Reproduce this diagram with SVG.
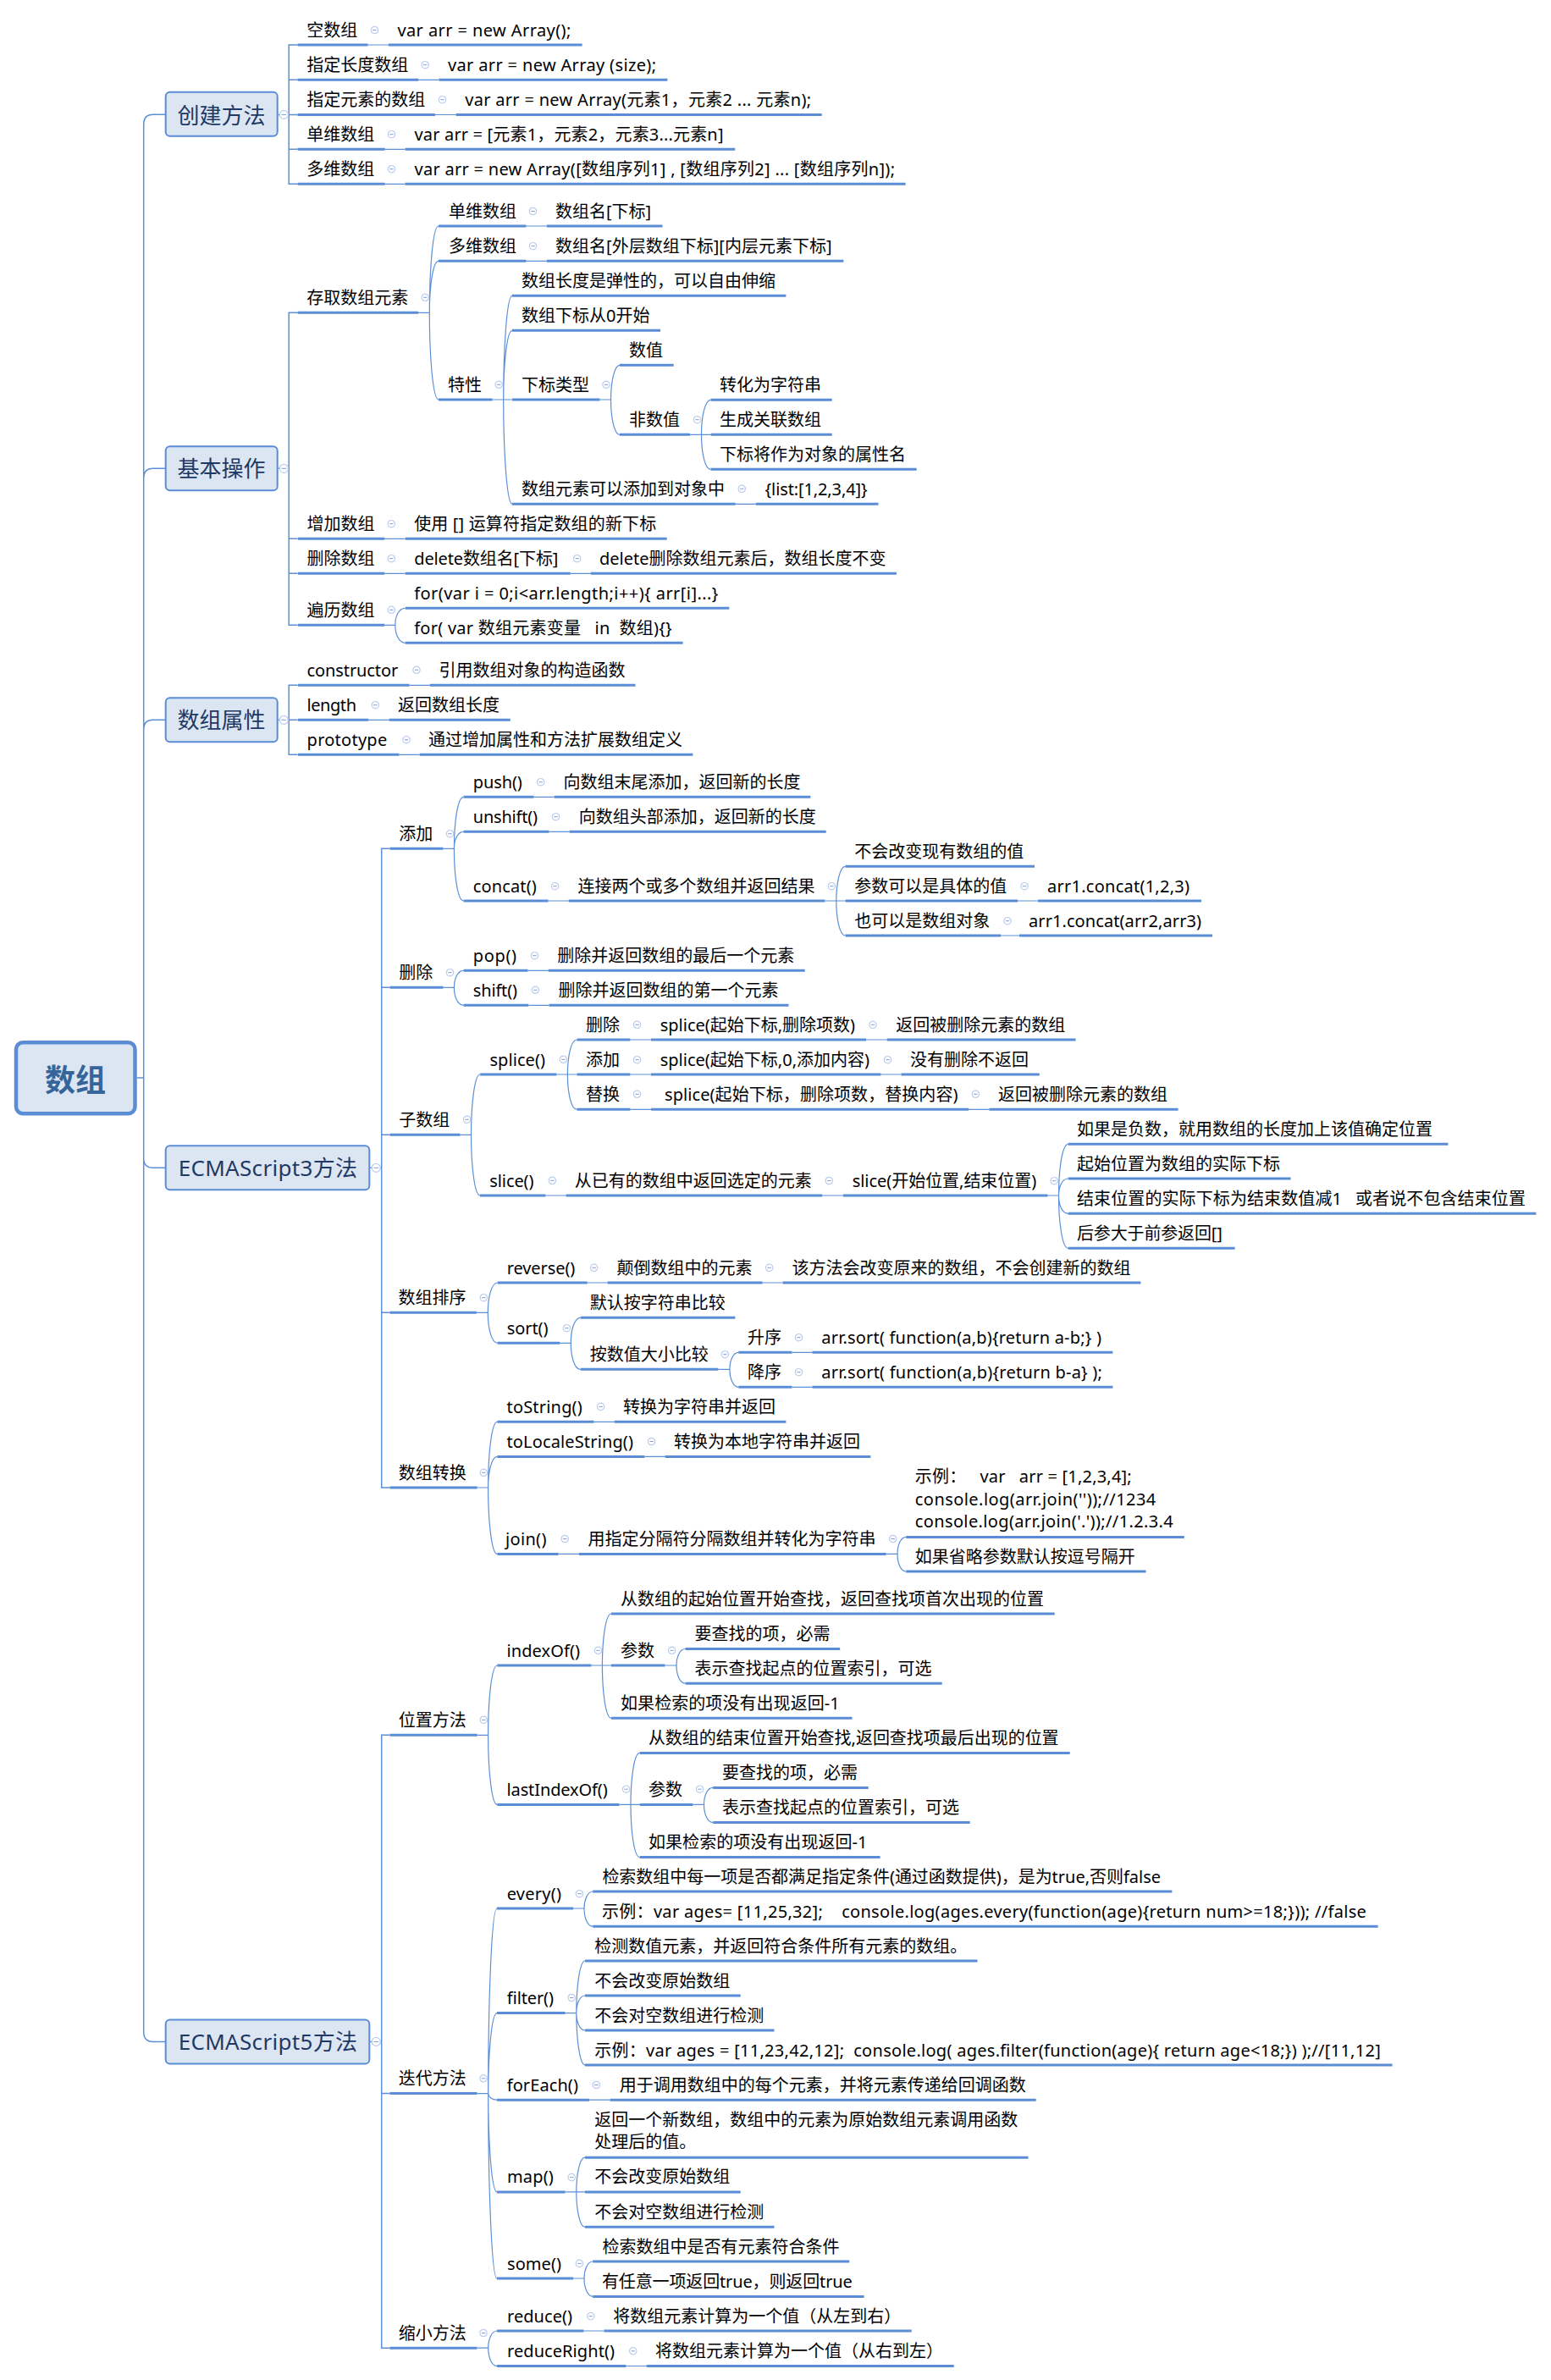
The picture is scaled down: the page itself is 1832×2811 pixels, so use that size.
<svg xmlns="http://www.w3.org/2000/svg" width="1832" height="2811" viewBox="0 0 1832 2811">
<style>
text{font-family:"Noto Sans","Noto Sans CJK SC",sans-serif;font-size:20px;fill:#000;white-space:pre}
.u{fill:none;stroke:#5b8dd6;stroke-width:3}
.c{fill:none;stroke:#5b8fd6;stroke-width:1.2}
.s{fill:none;stroke:#5b8fd6;stroke-width:1.5}
.b{fill:#dce6f3;stroke:#5b8dd6;stroke-width:2}
.bt{font-size:26px;fill:#1f3864}
.k circle{fill:#fff;stroke:#bccdf0;stroke-width:1.2}
.k path{fill:none;stroke:#7f9de0;stroke-width:1}
</style>
<defs>
<g id="tg" class="k"><circle r="4.2"/><path d="M-2.2 0H2.2"/></g>
<g id="tb" class="k"><circle r="5"/><path d="M-2.8 0H2.8"/></g>
</defs>
<rect width="1832" height="2811" fill="#fff"/>
<g id="connectors">
<path class="s" d="M162 1273H170M195 135.3H181Q169.7 135.3 169.7 147V2400Q169.7 2411.4 181 2411.4H195M195 553.3H181Q169.7 553.3 169.7 565M195 850.3H181Q169.7 850.3 169.7 862M195 1379.3H181Q169.7 1379.3 169.7 1368"/>
<path class="s" d="M328.6 135.5H341.2M351.5 53H341.2V217.3H351.5M341.2 94.3H351.5M341.2 135.5H351.5M341.2 176.3H351.5"/>
<path class="s" d="M328.6 553.3H341.2M351.5 369.3H341.2V738.3H351.5M341.2 636.3H351.5M341.2 677.3H351.5"/>
<path class="s" d="M328.6 850.3H341.2M351.5 809.3H341.2V891.3H351.5M341.2 850.3H351.5"/>
<path class="s" d="M437.3 1379.3H450.7M460.5 1002.3H450.7V1757H460.5M450.7 1166.3H460.5M450.7 1340.3H460.5M450.7 1550.3H460.5"/>
<path class="s" d="M437.3 2411.4H450.7M460.5 2049.3H450.7V2773.2H460.5M450.7 2472.6H460.5"/>
<path class="c" d="M434.6 53H458.7M494.3 94.3H518.4M514 135.5H538.6M454.7 176.3H478.5M454.7 217.3H478.5M621.5 267H645.7M621.5 308.3H645.7M868.8 595.3H892.7M454.4 636.3H478.8M454.4 677.3H478.8M673.8 677.3H697.7M483.6 809.3H507.7M435.4 850.3H459.5M471.5 891.3H495.6M630.6 941.3H654.7M648.5 982.3H672.6M647.6 1064H671.7M1202 1064H1226M1182 1105H1204M623.5 1146.3H647.6M624.4 1187.3H648.5M744.5 1228H769M1023 1228H1047.6M744.5 1269H769M1040.4 1269H1064.5M744.5 1310.3H769M1144.3 1310.3H1168.4M644.5 1412H668.4M971.3 1412H995.7M693.7 1515H717.6M900.7 1515H924.6M935.5 1597.3H959.4M935.5 1638.3H959.4M701.6 1679.3H725.7M761.4 1720.4H785.5M659.6 1835.4H683.8M696 2480.2H720.6M689.5 2753H713.5M739.5 2794.5H763.5"/>
<path class="c" d="M494.3 369.3H507.3M507.3 369.3C507.3 318 511.3 267 518 267M507.3 369.3C507.3 339 511.3 308.3 518 308.3M507.3 369.3C507.3 421 511.3 472 518 472"/>
<path class="c" d="M581.7 472H594.7M594.7 472C594.7 411 598.7 349.3 605 349.3M594.7 472C594.7 431 598.7 390.3 605 390.3M594.7 472H605M594.7 472C594.7 534 598.7 595.3 605 595.3"/>
<path class="c" d="M708.6 472H721.5M721.5 472C721.5 452 725.5 431.3 732 431.3M721.5 472C721.5 493 725.5 513.3 732 513.3"/>
<path class="c" d="M815 513.3H839.5M828.5 513.3C828.5 493 832.5 472.3 839.5 472.3M828.5 513.3C828.5 534 832.5 554.3 839.5 554.3"/>
<path class="c" d="M454.4 738.3H466.8M466.8 738.3C466.8 728 470.8 718.3 478.8 718.3M466.8 738.3C466.8 749 470.8 759.3 478.8 759.3"/>
<path class="c" d="M523.5 1002.3H536.4M536.4 1002.3C536.4 972 540.4 941.3 547.6 941.3M536.4 1002.3C536.4 992 540.4 982.3 547.6 982.3M536.4 1002.3C536.4 1033 540.4 1064 547.6 1064"/>
<path class="c" d="M974.4 1064H998.5M987.8 1064C987.8 1044 991.8 1023.3 998.5 1023.3M987.8 1064C987.8 1085 991.8 1105 998.5 1105"/>
<path class="c" d="M523.5 1166.3H536.4M536.4 1166.3C536.4 1156 540.4 1146.3 547.6 1146.3M536.4 1166.3C536.4 1177 540.4 1187.3 547.6 1187.3"/>
<path class="c" d="M543.6 1340.3H556.5M556.5 1340.3C556.5 1305 560.5 1269 567 1269M556.5 1340.3C556.5 1376 560.5 1412 567 1412"/>
<path class="c" d="M657.4 1269H681.5M670.4 1269C670.4 1248 674.4 1228 681.5 1228M670.4 1269C670.4 1290 674.4 1310.3 681.5 1310.3"/>
<path class="c" d="M1237.6 1412H1250.5M1250.5 1412C1250.5 1382 1254.5 1351.3 1261.7 1351.3M1250.5 1412C1250.5 1402 1254.5 1392 1261.7 1392M1250.5 1412C1250.5 1423 1254.5 1433.3 1261.7 1433.3M1250.5 1412C1250.5 1443 1254.5 1474.3 1261.7 1474.3"/>
<path class="c" d="M562.9 1550.3H576.3M576.3 1550.3C576.3 1533 580.3 1515 587.8 1515M576.3 1550.3C576.3 1568 580.3 1586.3 587.8 1586.3"/>
<path class="c" d="M661.4 1586.3H674.3M674.3 1586.3C674.3 1571 678.3 1556.3 685.8 1556.3M674.3 1586.3C674.3 1602 678.3 1617.3 685.8 1617.3"/>
<path class="c" d="M848.5 1617.3H861.9M861.9 1617.3C861.9 1607 865.9 1597.3 872.3 1597.3M861.9 1617.3C861.9 1628 865.9 1638.3 872.3 1638.3"/>
<path class="c" d="M563.7 1757H576.6M576.6 1757C576.6 1718 580.6 1679.3 587.3 1679.3M576.6 1757C576.6 1739 580.6 1720.4 587.3 1720.4M576.6 1757C576.6 1796 580.6 1835.4 587.3 1835.4"/>
<path class="c" d="M1046.7 1835.4H1060M1060 1835.4C1060 1825 1064 1815.4 1070.2 1815.4M1060 1835.4C1060 1846 1064 1856 1070.2 1856"/>
<path class="c" d="M563.7 2049.3H576.6M576.6 2049.3C576.6 2008 580.6 1967 587.3 1967M576.6 2049.3C576.6 2090 580.6 2131.4 587.3 2131.4"/>
<path class="c" d="M698.5 1967H722M711.4 1967C711.4 1936 715.4 1906 722 1906M711.4 1967C711.4 1998 715.4 2029.3 722 2029.3"/>
<path class="c" d="M785.5 1967H799M799 1967C799 1957 803 1947.5 809.6 1947.5M799 1967C799 1978 803 1988.2 809.6 1988.2"/>
<path class="c" d="M731.5 2131.4H755.6M745 2131.4C745 2101 749 2070.4 755.6 2070.4M745 2131.4C745 2162 749 2193.6 755.6 2193.6"/>
<path class="c" d="M818.6 2131.4H831.5M831.5 2131.4C831.5 2121 835.5 2111.4 842.2 2111.4M831.5 2131.4C831.5 2142 835.5 2152.5 842.2 2152.5"/>
<path class="c" d="M563.5 2472.6H576.7M576.7 2472.6C576.7 2363 580.7 2254 587 2254M576.7 2472.6C576.7 2425 580.7 2377.6 587 2377.6M576.7 2472.6C576.7 2476 580.7 2480.2 587 2480.2M576.7 2472.6C576.7 2531 580.7 2588.9 587 2588.9M576.7 2472.6C576.7 2582 580.7 2691 587 2691"/>
<path class="c" d="M677.2 2254H690M690 2254C690 2244 694 2234 700.2 2234M690 2254C690 2265 694 2275.3 700.2 2275.3"/>
<path class="c" d="M667.6 2377.6H680.8M680.8 2377.6C680.8 2347 684.8 2316 691 2316M680.8 2377.6C680.8 2367 684.8 2357 691 2357M680.8 2377.6C680.8 2388 684.8 2398 691 2398M680.8 2377.6C680.8 2408 684.8 2439 691 2439"/>
<path class="c" d="M667.6 2588.9H691M680.8 2588.9C680.8 2568 684.8 2548.2 691 2548.2M680.8 2588.9C680.8 2610 684.8 2630.3 691 2630.3"/>
<path class="c" d="M677.2 2691H690M690 2691C690 2681 694 2671 700.2 2671M690 2691C690 2702 694 2712.4 700.2 2712.4"/>
<path class="c" d="M563.5 2773.2H576.7M576.7 2773.2C576.7 2763 580.7 2753 587 2753M576.7 2773.2C576.7 2784 580.7 2794.5 587 2794.5"/>
</g>
<g id="root"><rect x="19" y="1231.3" width="140.5" height="84" rx="8" fill="#dce6f3" stroke="#5b8dd6" stroke-width="4.5"/><text x="53" y="1288.5" style="font-size:36px;font-weight:700;fill:#35659a;font-family:'Noto Sans CJK SC',sans-serif">数组</text></g>
<g id="b-create"><rect class="b" x="195.7" y="108.7" width="132" height="52" rx="5"/><text class="bt" x="209.6" y="145.5">创建方法</text><use href="#tb" x="335.3" y="135.4"/></g>
<g id="b-basic"><rect class="b" x="195.7" y="527.3" width="132" height="52" rx="5"/><text class="bt" x="209.6" y="563.3">基本操作</text><use href="#tb" x="335.3" y="553.3"/></g>
<g id="b-prop"><rect class="b" x="195.7" y="824.3" width="132" height="52" rx="5"/><text class="bt" x="209.6" y="860.3">数组属性</text><use href="#tb" x="335.3" y="850.3"/></g>
<g id="b-es3"><rect class="b" x="195.7" y="1353.3" width="240.6" height="52" rx="5"/><text class="bt" x="210.7" y="1389.3" textLength="211.3">ECMAScript3方法</text><use href="#tb" x="444.3" y="1379.3"/></g>
<g id="b-es5"><rect class="b" x="195.7" y="2385.4" width="240.6" height="52" rx="5"/><text class="bt" x="210.7" y="2421.4" textLength="211.3">ECMAScript5方法</text><use href="#tb" x="444.3" y="2411.4"/></g>

<g id="n1"><text x="362.2" y="42.5">空数组</text><path class="u" d="M351.5 53H434.6"/><use href="#tg" x="442.5" y="35.5"/></g>
<g id="n1v"><text x="469.4" y="42.5" textLength="205">var arr = new Array();</text><path class="u" d="M458.7 53H687.6"/></g>
<g id="n2"><text x="362.2" y="83.8">指定长度数组</text><path class="u" d="M351.5 94.3H494.3"/><use href="#tg" x="502.2" y="76.7"/></g>
<g id="n2v"><text x="529" y="83.8" textLength="246">var arr = new Array (size);</text><path class="u" d="M518.4 94.3H788.4"/></g>
<g id="n3"><text x="362.2" y="125">指定元素的数组</text><path class="u" d="M351.5 135.5H514"/><use href="#tg" x="522.5" y="117.7"/></g>
<g id="n3v"><text x="549.2" y="125" textLength="409">var arr = new Array(元素1，元素2 ... 元素n);</text><path class="u" d="M538.6 135.5H970.7"/></g>
<g id="n4"><text x="362.2" y="165.8">单维数组</text><path class="u" d="M351.5 176.3H454.7"/><use href="#tg" x="462.5" y="158.7"/></g>
<g id="n4v"><text x="489.5" y="165.8" textLength="365">var arr = [元素1，元素2，元素3...元素n]</text><path class="u" d="M478.5 176.3H868.3"/></g>
<g id="n5"><text x="362.2" y="206.8">多维数组</text><path class="u" d="M351.5 217.3H454.7"/><use href="#tg" x="462.5" y="199.7"/></g>
<g id="n5v"><text x="489.5" y="206.8" textLength="567.5">var arr = new Array([数组序列1] , [数组序列2] ... [数组序列n]);</text><path class="u" d="M478.5 217.3H1069.6"/></g>

<g id="n6"><text x="362.2" y="358.8">存取数组元素</text><path class="u" d="M351.5 369.3H494.3"/><use href="#tg" x="502.2" y="351.3"/></g>
<g id="n7"><text x="529.9" y="256.5">单维数组</text><path class="u" d="M518 267H621.5"/><use href="#tg" x="629.5" y="249.5"/></g>
<g id="n7v"><text x="656" y="256.5">数组名[下标]</text><path class="u" d="M645.7 267H782.5"/></g>
<g id="n8"><text x="529.9" y="297.8">多维数组</text><path class="u" d="M518 308.3H621.5"/><use href="#tg" x="629.5" y="290.7"/></g>
<g id="n8v"><text x="656" y="297.8" textLength="326.6">数组名[外层数组下标][内层元素下标]</text><path class="u" d="M645.7 308.3H996.4"/></g>
<g id="n9"><text x="529" y="461.5">特性</text><path class="u" d="M518 472H581.7"/><use href="#tg" x="589.2" y="454.3"/></g>
<g id="n10"><text x="616" y="338.8">数组长度是弹性的，可以自由伸缩</text><path class="u" d="M605 349.3H928.4"/></g>
<g id="n11"><text x="616" y="379.8">数组下标从0开始</text><path class="u" d="M605 390.3H780"/></g>
<g id="n12"><text x="616" y="461.5">下标类型</text><path class="u" d="M605 472H708.6"/><use href="#tg" x="716" y="454.3"/></g>
<g id="n13"><text x="743" y="420.8">数值</text><path class="u" d="M732 431.3H795.7"/></g>
<g id="n14"><text x="743" y="502.8">非数值</text><path class="u" d="M732 513.3H815"/><use href="#tg" x="823.5" y="495.7"/></g>
<g id="n15"><text x="850" y="461.8">转化为字符串</text><path class="u" d="M839.5 472.3H982.7"/></g>
<g id="n16"><text x="850" y="502.8">生成关联数组</text><path class="u" d="M839.5 513.3H982.7"/></g>
<g id="n17"><text x="850" y="543.8">下标将作为对象的属性名</text><path class="u" d="M839.5 554.3H1082.7"/></g>
<g id="n18"><text x="616" y="584.8">数组元素可以添加到对象中</text><path class="u" d="M605 595.3H868.8"/><use href="#tg" x="876.3" y="577.3"/></g>
<g id="n18v"><text x="903.6" y="584.8" textLength="121">{list:[1,2,3,4]}</text><path class="u" d="M892.7 595.3H1037.5"/></g>
<g id="n19"><text x="362.5" y="625.8">增加数组</text><path class="u" d="M351.9 636.3H454.4"/><use href="#tg" x="462.3" y="618.7"/></g>
<g id="n19v"><text x="489.2" y="625.8" textLength="286">使用 [] 运算符指定数组的新下标</text><path class="u" d="M478.8 636.3H787.7"/></g>
<g id="n20"><text x="362.5" y="666.8">删除数组</text><path class="u" d="M351.9 677.3H454.4"/><use href="#tg" x="462.3" y="659.7"/></g>
<g id="n20v"><text x="489.2" y="666.8" textLength="170.2">delete数组名[下标]</text><path class="u" d="M478.8 677.3H673.8"/><use href="#tg" x="681.7" y="659.7"/></g>
<g id="n20w"><text x="708" y="666.8" textLength="338.4">delete删除数组元素后，数组长度不变</text><path class="u" d="M697.7 677.3H1058.9"/></g>
<g id="n21"><text x="362.5" y="727.8">遍历数组</text><path class="u" d="M351.9 738.3H454.4"/><use href="#tg" x="462.3" y="720.3"/></g>
<g id="n22"><text x="489.2" y="707.8" textLength="359.2">for(var i = 0;i&lt;arr.length;i++){ arr[i]...}</text><path class="u" d="M478.8 718.3H861.3"/></g>
<g id="n23"><text x="489.2" y="748.8" textLength="304.5">for( var 数组元素变量   in  数组){}</text><path class="u" d="M478.8 759.3H806.6"/></g>

<g id="n24"><text x="362.6" y="798.8" textLength="107.6">constructor</text><path class="u" d="M351.9 809.3H483.6"/><use href="#tg" x="492" y="791.3"/></g>
<g id="n24v"><text x="518.4" y="798.8">引用数组对象的构造函数</text><path class="u" d="M507.7 809.3H750.5"/></g>
<g id="n25"><text x="362.6" y="839.8" textLength="58.4">length</text><path class="u" d="M351.9 850.3H435.4"/><use href="#tg" x="443.4" y="832.7"/></g>
<g id="n25v"><text x="470" y="839.8">返回数组长度</text><path class="u" d="M459.5 850.3H602.8"/></g>
<g id="n26"><text x="362.6" y="880.8" textLength="94.6">prototype</text><path class="u" d="M351.9 891.3H471.5"/><use href="#tg" x="480" y="873.7"/></g>
<g id="n26v"><text x="506" y="880.8">通过增加属性和方法扩展数组定义</text><path class="u" d="M495.6 891.3H818.4"/></g>

<g id="n27"><text x="471.2" y="991.8">添加</text><path class="u" d="M460.5 1002.3H523.5"/><use href="#tg" x="531.5" y="984.7"/></g>
<g id="n28"><text x="558.8" y="930.8" textLength="58">push()</text><path class="u" d="M547.6 941.3H630.6"/><use href="#tg" x="638.7" y="923.7"/></g>
<g id="n28v"><text x="665.4" y="930.8">向数组末尾添加，返回新的长度</text><path class="u" d="M654.7 941.3H957.4"/></g>
<g id="n29"><text x="558.8" y="971.8" textLength="76.2">unshift()</text><path class="u" d="M547.6 982.3H648.5"/><use href="#tg" x="656.5" y="964.7"/></g>
<g id="n29v"><text x="683.8" y="971.8">向数组头部添加，返回新的长度</text><path class="u" d="M672.6 982.3H975.7"/></g>
<g id="n30"><text x="558.8" y="1053.5" textLength="75">concat()</text><path class="u" d="M547.6 1064H647.6"/><use href="#tg" x="655.6" y="1046.7"/></g>
<g id="n30v"><text x="682.4" y="1053.5">连接两个或多个数组并返回结果</text><path class="u" d="M671.7 1064H974.4"/><use href="#tg" x="982.4" y="1046.7"/></g>
<g id="n31"><text x="1009.2" y="1012.8">不会改变现有数组的值</text><path class="u" d="M998.5 1023.3H1222"/></g>
<g id="n32"><text x="1009.2" y="1053.5">参数可以是具体的值</text><path class="u" d="M998.5 1064H1202"/><use href="#tg" x="1210" y="1046.7"/></g>
<g id="n32v"><text x="1237" y="1053.5" textLength="168">arr1.concat(1,2,3)</text><path class="u" d="M1226 1064H1419"/></g>
<g id="n33"><text x="1009.2" y="1094.5">也可以是数组对象</text><path class="u" d="M998.5 1105H1182"/><use href="#tg" x="1190" y="1087.7"/></g>
<g id="n33v"><text x="1215" y="1094.5" textLength="204">arr1.concat(arr2,arr3)</text><path class="u" d="M1204 1105H1432"/></g>
<g id="n34"><text x="471.2" y="1155.8">删除</text><path class="u" d="M460.5 1166.3H523.5"/><use href="#tg" x="531.5" y="1148.7"/></g>
<g id="n35"><text x="558.8" y="1135.8" textLength="51.2">pop()</text><path class="u" d="M547.6 1146.3H623.5"/><use href="#tg" x="631.5" y="1128.7"/></g>
<g id="n35v"><text x="658.3" y="1135.8">删除并返回数组的最后一个元素</text><path class="u" d="M647.6 1146.3H950.7"/></g>
<g id="n36"><text x="558.8" y="1176.8" textLength="52.2">shift()</text><path class="u" d="M547.6 1187.3H624.4"/><use href="#tg" x="632.4" y="1169.3"/></g>
<g id="n36v"><text x="659.5" y="1176.8">删除并返回数组的第一个元素</text><path class="u" d="M648.5 1187.3H931.5"/></g>
<g id="n37"><text x="471.2" y="1329.8">子数组</text><path class="u" d="M460.5 1340.3H543.6"/><use href="#tg" x="551.6" y="1322.3"/></g>
<g id="n38"><text x="578.4" y="1258.5" textLength="65.6">splice()</text><path class="u" d="M567.2 1269H657.4"/><use href="#tg" x="665.4" y="1251.3"/></g>
<g id="n39"><text x="692" y="1217.5">删除</text><path class="u" d="M681.5 1228H744.5"/><use href="#tg" x="752.5" y="1210.3"/></g>
<g id="n39v"><text x="779.7" y="1217.5" textLength="230.3">splice(起始下标,删除项数)</text><path class="u" d="M769 1228H1023"/><use href="#tg" x="1031" y="1210.3"/></g>
<g id="n39w"><text x="1058.3" y="1217.5">返回被删除元素的数组</text><path class="u" d="M1047.6 1228H1270.6"/></g>
<g id="n40"><text x="692" y="1258.5">添加</text><path class="u" d="M681.5 1269H744.5"/><use href="#tg" x="752.5" y="1251.7"/></g>
<g id="n40v"><text x="779.7" y="1258.5" textLength="247.3">splice(起始下标,0,添加内容)</text><path class="u" d="M769 1269H1040.4"/><use href="#tg" x="1048.5" y="1251.7"/></g>
<g id="n40w"><text x="1075" y="1258.5">没有删除不返回</text><path class="u" d="M1064.5 1269H1227.8"/></g>
<g id="n41"><text x="692" y="1299.8">替换</text><path class="u" d="M681.5 1310.3H744.5"/><use href="#tg" x="752.5" y="1292.3"/></g>
<g id="n41v"><text x="785" y="1299.8" textLength="346.5">splice(起始下标，删除项数，替换内容)</text><path class="u" d="M769 1310.3H1144.3"/><use href="#tg" x="1152.3" y="1292.3"/></g>
<g id="n41w"><text x="1179" y="1299.8">返回被删除元素的数组</text><path class="u" d="M1168.4 1310.3H1391.6"/></g>
<g id="n42"><text x="578.3" y="1401.5" textLength="52.2">slice()</text><path class="u" d="M566.9 1412H644.5"/><use href="#tg" x="652.4" y="1394.3"/></g>
<g id="n42v"><text x="678.8" y="1401.5">从已有的数组中返回选定的元素</text><path class="u" d="M668.4 1412H971.3"/><use href="#tg" x="979.3" y="1394.5"/></g>
<g id="n42w"><text x="1006.7" y="1401.5" textLength="217.5">slice(开始位置,结束位置)</text><path class="u" d="M995.7 1412H1237.6"/><use href="#tg" x="1245.2" y="1394.7"/></g>
<g id="n43"><text x="1272" y="1340.8">如果是负数，就用数组的长度加上该值确定位置</text><path class="u" d="M1261.7 1351.3H1710.4"/></g>
<g id="n44"><text x="1272" y="1381.5">起始位置为数组的实际下标</text><path class="u" d="M1261.7 1392H1524.6"/></g>
<g id="n45"><text x="1272" y="1422.8" textLength="529.9">结束位置的实际下标为结束数值减1   或者说不包含结束位置</text><path class="u" d="M1261.7 1433.3H1814.4"/></g>
<g id="n46"><text x="1272" y="1463.8" textLength="171.8">后参大于前参返回[]</text><path class="u" d="M1261.7 1474.3H1458.6"/></g>

<g id="n47"><text x="470.4" y="1539.8">数组排序</text><path class="u" d="M460.4 1550.3H562.9"/><use href="#tg" x="571.3" y="1532.7"/></g>
<g id="n48"><text x="598.7" y="1504.5" textLength="80.6">reverse()</text><path class="u" d="M587.8 1515H693.7"/><use href="#tg" x="701.7" y="1497.3"/></g>
<g id="n48v"><text x="728.6" y="1504.5">颠倒数组中的元素</text><path class="u" d="M717.6 1515H900.7"/><use href="#tg" x="908.7" y="1497.3"/></g>
<g id="n48w"><text x="935.5" y="1504.5">该方法会改变原来的数组，不会创建新的数组</text><path class="u" d="M924.6 1515H1347.4"/></g>
<g id="n49"><text x="598.7" y="1575.8" textLength="48.8">sort()</text><path class="u" d="M587.8 1586.3H661.4"/><use href="#tg" x="669.4" y="1568.7"/></g>
<g id="n50"><text x="696.7" y="1545.8">默认按字符串比较</text><path class="u" d="M685.8 1556.3H868.4"/></g>
<g id="n51"><text x="696.7" y="1606.8">按数值大小比较</text><path class="u" d="M685.8 1617.3H848.5"/><use href="#tg" x="856.4" y="1599.7"/></g>
<g id="n52"><text x="883" y="1586.8">升序</text><path class="u" d="M872.3 1597.3H935.5"/><use href="#tg" x="943.5" y="1579.7"/></g>
<g id="n52v"><text x="970.3" y="1586.8" textLength="330.7">arr.sort( function(a,b){return a-b;} )</text><path class="u" d="M959.4 1597.3H1314.4"/></g>
<g id="n53"><text x="883" y="1627.8">降序</text><path class="u" d="M872.3 1638.3H935.5"/><use href="#tg" x="943.5" y="1620.7"/></g>
<g id="n53v"><text x="970.3" y="1627.8" textLength="331.6">arr.sort( function(a,b){return b-a} );</text><path class="u" d="M959.4 1638.3H1314.4"/></g>

<g id="n54"><text x="470.7" y="1746.5">数组转换</text><path class="u" d="M460.5 1757H563.7"/><use href="#tg" x="571.3" y="1739.3"/></g>
<g id="n55"><text x="598.5" y="1668.8" textLength="89.3">toString()</text><path class="u" d="M587.3 1679.3H701.6"/><use href="#tg" x="709.6" y="1661.4"/></g>
<g id="n55v"><text x="736" y="1668.8">转换为字符串并返回</text><path class="u" d="M725.7 1679.3H928.4"/></g>
<g id="n56"><text x="598.5" y="1709.9" textLength="149.5">toLocaleString()</text><path class="u" d="M587.3 1720.4H761.4"/><use href="#tg" x="769.5" y="1702.5"/></g>
<g id="n56v"><text x="796" y="1709.9">转换为本地字符串并返回</text><path class="u" d="M785.5 1720.4H1028.4"/></g>
<g id="n57"><text x="597" y="1824.9" textLength="48.4">join()</text><path class="u" d="M587.3 1835.4H659.6"/><use href="#tg" x="667.2" y="1817.5"/></g>
<g id="n57v"><text x="694.5" y="1824.9">用指定分隔符分隔数组并转化为字符串</text><path class="u" d="M683.8 1835.4H1046.7"/><use href="#tg" x="1054.7" y="1817.5"/></g>
<g id="n58"><text x="1080.8" y="1750.7" textLength="255.9">示例：   var   arr = [1,2,3,4];</text><text x="1080.8" y="1777.5" textLength="284.5">console.log(arr.join(''));//1234</text><text x="1080.8" y="1804.3" textLength="304.9">console.log(arr.join('.'));//1.2.3.4</text><path class="u" d="M1070.2 1815.4H1398.8"/></g>
<g id="n59"><text x="1080.8" y="1845.5">如果省略参数默认按逗号隔开</text><path class="u" d="M1070.2 1856H1353.5"/></g>

<g id="n60"><text x="470.7" y="2038.8">位置方法</text><path class="u" d="M460.5 2049.3H563.7"/><use href="#tg" x="571.3" y="2031.4"/></g>
<g id="n61"><text x="598.5" y="1956.5" textLength="86.5">indexOf()</text><path class="u" d="M587.3 1967H698.5"/><use href="#tg" x="706.5" y="1949.3"/></g>
<g id="n62"><text x="732.9" y="1895.5">从数组的起始位置开始查找，返回查找项首次出现的位置</text><path class="u" d="M722 1906H1245.7"/></g>
<g id="n63"><text x="733" y="1956.5">参数</text><path class="u" d="M722 1967H785.5"/><use href="#tg" x="793.6" y="1949.3"/></g>
<g id="n64"><text x="820.4" y="1937">要查找的项，必需</text><path class="u" d="M809.6 1947.5H992.2"/></g>
<g id="n65"><text x="820.4" y="1977.7">表示查找起点的位置索引，可选</text><path class="u" d="M809.6 1988.2H1112.7"/></g>
<g id="n66"><text x="733" y="2018.8" textLength="258.8">如果检索的项没有出现返回-1</text><path class="u" d="M722 2029.3H1006.5"/></g>
<g id="n67"><text x="598.5" y="2120.9" textLength="119.2">lastIndexOf()</text><path class="u" d="M587.3 2131.4H731.5"/><use href="#tg" x="739.6" y="2113.2"/></g>
<g id="n68"><text x="765.9" y="2059.9" textLength="484.7">从数组的结束位置开始查找,返回查找项最后出现的位置</text><path class="u" d="M755.6 2070.4H1263.7"/></g>
<g id="n69"><text x="766" y="2120.9">参数</text><path class="u" d="M755.6 2131.4H818.6"/><use href="#tg" x="826.6" y="2113.2"/></g>
<g id="n70"><text x="853" y="2100.9">要查找的项，必需</text><path class="u" d="M842.2 2111.4H1025.7"/></g>
<g id="n71"><text x="853" y="2142">表示查找起点的位置索引，可选</text><path class="u" d="M842.2 2152.5H1145.7"/></g>
<g id="n72"><text x="766" y="2183.1" textLength="258.5">如果检索的项没有出现返回-1</text><path class="u" d="M755.6 2193.6H1039.6"/></g>

<g id="n73"><text x="470.7" y="2462.1">迭代方法</text><path class="u" d="M460.4 2472.6H563.5"/><use href="#tg" x="571" y="2454.8"/></g>
<g id="n74"><text x="598.7" y="2243.5" textLength="64.3">every()</text><path class="u" d="M587 2254H677.2"/><use href="#tg" x="684.4" y="2236.7"/></g>
<g id="n75"><text x="711.4" y="2223.5" textLength="659.6">检索数组中每一项是否都满足指定条件(通过函数提供)，是为true,否则false</text><path class="u" d="M700.2 2234H1384.4"/></g>
<g id="n76"><text x="711" y="2264.8" textLength="902.8">示例：var ages= [11,25,32];    console.log(ages.every(function(age){return num&gt;=18;})); //false</text><path class="u" d="M700.2 2275.3H1627.7"/></g>
<g id="n77"><text x="598.7" y="2367.1" textLength="55.1">filter()</text><path class="u" d="M587 2377.6H667.6"/><use href="#tg" x="675.2" y="2359.5"/></g>
<g id="n78"><text x="702.2" y="2305.5">检测数值元素，并返回符合条件所有元素的数组。</text><path class="u" d="M691 2316H1154.5"/></g>
<g id="n79"><text x="702.2" y="2346.5">不会改变原始数组</text><path class="u" d="M691 2357H874.7"/></g>
<g id="n80"><text x="702.2" y="2387.5">不会对空数组进行检测</text><path class="u" d="M691 2398H914.5"/></g>
<g id="n81"><text x="702.2" y="2428.5" textLength="928.6">示例：var ages = [11,23,42,12];  console.log( ages.filter(function(age){ return age&lt;18;}) );//[11,12]</text><path class="u" d="M691 2439H1644.6"/></g>
<g id="n82"><text x="598.7" y="2469.7" textLength="84.2">forEach()</text><path class="u" d="M587 2480.2H696"/><use href="#tg" x="704.3" y="2462.5"/></g>
<g id="n82v"><text x="731.8" y="2469.7">用于调用数组中的每个元素，并将元素传递给回调函数</text><path class="u" d="M720.6 2480.2H1223.7"/></g>
<g id="n83"><text x="599" y="2578.4" textLength="54.8">map()</text><path class="u" d="M587 2588.9H667.6"/><use href="#tg" x="675.2" y="2571.6"/></g>
<g id="n84"><text x="702.2" y="2510.7">返回一个新数组，数组中的元素为原始数组元素调用函数</text><text x="702.2" y="2537">处理后的值。</text><path class="u" d="M691 2548.2H1214.5"/></g>
<g id="n85"><text x="702.2" y="2578.4">不会改变原始数组</text><path class="u" d="M691 2588.9H874.7"/></g>
<g id="n86"><text x="702.2" y="2619.8">不会对空数组进行检测</text><path class="u" d="M691 2630.3H914.5"/></g>
<g id="n87"><text x="599" y="2680.5" textLength="64">some()</text><path class="u" d="M587 2691H677.2"/><use href="#tg" x="684.4" y="2673.4"/></g>
<g id="n88"><text x="711.4" y="2660.5">检索数组中是否有元素符合条件</text><path class="u" d="M700.2 2671H1003.3"/></g>
<g id="n89"><text x="711" y="2701.9" textLength="295.8">有任意一项返回true，则返回true</text><path class="u" d="M700.2 2712.4H1020.6"/></g>
<g id="n90"><text x="470.7" y="2762.7">缩小方法</text><path class="u" d="M460.4 2773.2H563.5"/><use href="#tg" x="571" y="2755.5"/></g>
<g id="n91"><text x="599" y="2742.5" textLength="77">reduce()</text><path class="u" d="M587 2753H689.5"/><use href="#tg" x="697.7" y="2735.7"/></g>
<g id="n91v"><text x="724.2" y="2742.5">将数组元素计算为一个值（从左到右）</text><path class="u" d="M713.5 2753H1076.7"/></g>
<g id="n92"><text x="599" y="2784" textLength="127">reduceRight()</text><path class="u" d="M587 2794.5H739.5"/><use href="#tg" x="747.7" y="2776.8"/></g>
<g id="n92v"><text x="774" y="2784">将数组元素计算为一个值（从右到左）</text><path class="u" d="M763.5 2794.5H1126.7"/></g>
</svg>
